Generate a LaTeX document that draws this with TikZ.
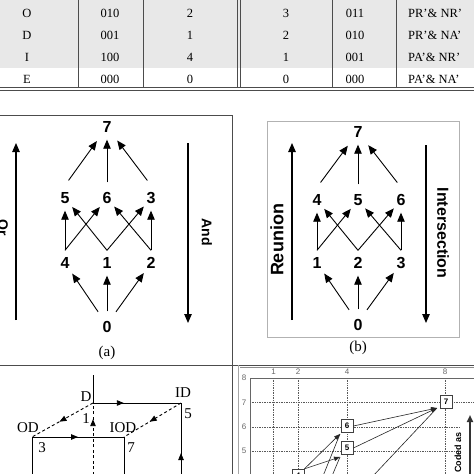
\documentclass[tikz,border=0pt]{standalone}
\usepackage{fontspec}
\setmainfont{Liberation Serif}
\newfontfamily\arialf{Liberation Sans}
\usetikzlibrary{arrows.meta,decorations.markings}
\begin{document}
\begin{tikzpicture}[x=1pt,y=-1pt,
  tcell/.style={font=\fontsize{12.5}{12.5}\selectfont, inner sep=0},
  lat/.style={font=\arialf\bfseries\fontsize{16}{16}\selectfont, inner sep=0, minimum height=25, minimum width=14},
  larr/.style={line width=0.9pt, -{Triangle[length=9pt,width=7.5pt]}},
  bigarr/.style={line width=1.1pt, -{Triangle[length=9pt,width=7.5pt]}},
  sidetxt/.style={font=\arialf\bfseries\fontsize{14}{14}\selectfont, inner sep=0},
  cubetxt/.style={font=\fontsize{15}{15}\selectfont, inner sep=0},
  cubeline/.style={line width=0.9pt},
  cubedash/.style={line width=0.9pt, dash pattern=on 3pt off 2.5pt},
  midarr/.style={postaction={decorate}, decoration={markings, mark=at position #1 with {\arrow{Triangle[length=7pt,width=5.5pt]}}}},
  frameline/.style={line width=1pt, black!70},
  grid/.style={densely dotted, line width=0.7pt, black!65},
  axlab/.style={font=\arialf\fontsize{8}{8}\selectfont, text=black!60, inner sep=0},
  cbox/.style={draw=black!75, fill=white, line width=0.8pt, minimum width=12, minimum height=12.5, inner sep=0, font=\arialf\bfseries\fontsize{8}{8}\selectfont},
  charr/.style={line width=0.6pt, black!85, -{Triangle[length=6pt,width=4.5pt]}},
  chline/.style={line width=0.6pt, black!85}
]
\useasboundingbox (0,0) rectangle (474,474);
\clip (0,0) rectangle (474,474);
\fill[white] (0,0) rectangle (474,474);

% ---------------- table ----------------
\fill[black!9] (0,0) rectangle (474,68);
\foreach \xx in {78,143,237.5,240.5,332,396} \draw[frameline] (\xx,0) -- (\xx,88);
\draw[frameline] (0,87.5) -- (474,87.5);
\draw[frameline] (0,90.5) -- (474,90.5);
\foreach \r/\yy/\a/\b/\c/\d/\e/\f in {1/13/O/010/2/3/011/PR’\& NR’, 2/35/D/001/1/2/010/PR’\& NA’, 3/57/I/100/4/1/001/PA’\& NR’, 4/79/E/000/0/0/000/PA’\& NA’}{
  \node[tcell] (ta\r) at (27,\yy) {\a};
  \node[tcell] (tb\r) at (110,\yy) {\b};
  \node[tcell] (tc\r) at (190,\yy) {\c};
  \node[tcell] (td\r) at (286,\yy) {\d};
  \node[tcell] (te\r) at (355,\yy) {\e};
  \node[tcell, anchor=west] (tf\r) at (408,\yy) {\f};
}

% ---------------- frames ----------------
\draw[frameline] (0,115) -- (232,115);
\draw[frameline] (232,115) -- (232,474);
\draw[frameline] (0,365) -- (474,365);
\draw[line width=0.8pt, black!45] (240,367.5) -- (474,367.5);
\draw[line width=0.8pt, black!35] (238,365) -- (238,474);
\draw[line width=0.8pt, black!30] (267,121) rectangle (459,337);

% ---------------- lattice (a) ----------------
\node[lat] (a7) at (107,127) {7};
\node[lat] (a5) at (65,198) {5};
\node[lat] (a6) at (107,198) {6};
\node[lat] (a3) at (151,198) {3};
\node[lat] (a4) at (65,263) {4};
\node[lat] (a1) at (107,263) {1};
\node[lat] (a2) at (151,263) {2};
\node[lat] (a0) at (107,327) {0};
\draw[larr, shorten <=3pt] (a0.north west) -- (a4);
\draw[larr, shorten <=3pt] (a0.north) -- (a1);
\draw[larr, shorten <=3pt] (a0.north east) -- (a2);
\draw[larr] (a4.north) -- (a5);
\draw[larr] (a4.north) -- (a6);
\draw[larr] (a1.north) -- (a5);
\draw[larr] (a1.north) -- (a3);
\draw[larr] (a2.north) -- (a6);
\draw[larr] (a2.north) -- (a3);
\draw[larr, shorten <=6pt, shorten >=5pt] (a5.north) -- (a7);
\draw[larr, shorten <=3pt] (a6.north) -- (a7);
\draw[larr, shorten <=6pt, shorten >=5pt] (a3.north) -- (a7);
\coordinate (al1) at (16,320); \coordinate (al2) at (16,143);
\draw[bigarr] (al1) -- (al2);
\coordinate (ar1) at (188,143); \coordinate (ar2) at (188,323);
\draw[bigarr] (ar1) -- (ar2);
\node[sidetxt, rotate=-90, anchor=north] (aor) at (8,228) {Or};
\node[sidetxt, rotate=-90] (aand) at (207,232) {And};
\node[font=\fontsize{15}{15}\selectfont, inner sep=0] (acap) at (107,353) {(a)};

% ---------------- lattice (b) ----------------
\node[lat] (b7) at (358,132) {7};
\node[lat] (b4) at (317,200) {4};
\node[lat] (b5) at (358,200) {5};
\node[lat] (b6) at (401,200) {6};
\node[lat] (b1) at (317,263) {1};
\node[lat] (b2) at (358,263) {2};
\node[lat] (b3) at (401,263) {3};
\node[lat] (b0) at (358,325) {0};
\draw[larr, shorten <=3pt] (b0.north west) -- (b1);
\draw[larr, shorten <=3pt] (b0.north) -- (b2);
\draw[larr, shorten <=3pt] (b0.north east) -- (b3);
\draw[larr] (b1.north) -- (b4);
\draw[larr] (b1.north) -- (b5);
\draw[larr] (b2.north) -- (b4);
\draw[larr] (b2.north) -- (b6);
\draw[larr] (b3.north) -- (b5);
\draw[larr] (b3.north) -- (b6);
\draw[larr, shorten <=6pt, shorten >=5pt] (b4.north) -- (b7);
\draw[larr, shorten <=3pt] (b5.north) -- (b7);
\draw[larr, shorten <=6pt, shorten >=5pt] (b6.north) -- (b7);
\coordinate (bl1) at (292,320); \coordinate (bl2) at (292,143);
\draw[bigarr] (bl1) -- (bl2);
\coordinate (br1) at (426,145); \coordinate (br2) at (426,323);
\draw[bigarr] (br1) -- (br2);
\node[sidetxt, font=\arialf\bfseries\fontsize{18}{18}\selectfont, rotate=90] (breu) at (277,240) {Reunion};
\node[sidetxt, font=\arialf\bfseries\fontsize{16}{16}\selectfont, rotate=-90] (bint) at (443,233) {Intersection};
\node[font=\fontsize{15}{15}\selectfont, inner sep=0] (bcap) at (358,348) {(b)};

% ---------------- cube ----------------
\coordinate (cD) at (93,403);
\coordinate (cID) at (181,403);
\coordinate (cOD) at (32,437);
\coordinate (cIOD) at (124,437);
\coordinate (cDtop) at (93,375);
\coordinate (cDbot) at (93,480);
\coordinate (cIDbot) at (181,480);
\coordinate (cODbot) at (32,480);
\coordinate (cIODbot) at (124,480);
\draw[cubeline] (cDtop) -- (cD);
\draw[cubedash, midarr=0.79] (cDbot) -- (cD);
\draw[cubeline, midarr=0.35] (cD) -- (cID);
\draw[cubedash, midarr=0.55] (cD) -- (cOD);
\draw[cubedash, midarr=0.55] (cID) -- (cIOD);
\draw[cubeline, midarr=0.5] (cOD) -- (cIOD);
\draw[cubeline] (cOD) -- (cODbot);
\draw[cubeline] (cIOD) -- (cIODbot);
\draw[cubeline, midarr=0.35] (cIDbot) -- (cID);
\node[cubetxt] (lD) at (86,397) {D};
\node[cubetxt] (l1) at (86,419) {1};
\node[cubetxt] (lID) at (183,393) {ID};
\node[cubetxt] (l5) at (188,414) {5};
\node[cubetxt] (lOD) at (28,428) {OD};
\node[cubetxt] (l3) at (42,448) {3};
\node[cubetxt] (lIOD) at (123,428) {IOD};
\node[cubetxt] (l7) at (131,448) {7};

% ---------------- chart ----------------
\foreach \xx in {273.5,298,347,445} \draw[grid] (\xx,378) -- (\xx,474);
\draw[grid] (250,402.5) -- (474,402.5);
\draw[grid] (250,427) -- (460,427);
\draw[grid] (250,451) -- (460,451);
\draw[line width=1pt, black!60] (250,474) -- (250,378) -- (474,378);
\node[axlab] (y8) at (244,378) {8};
\node[axlab] (y7) at (244,402.5) {7};
\node[axlab] (y6) at (244,427) {6};
\node[axlab] (y5) at (244,451) {5};
\node[axlab] (x1) at (273.5,372) {1};
\node[axlab] (x2) at (298,372) {2};
\node[axlab] (x4) at (347,372) {4};
\node[axlab] (x8) at (445,372) {8};
\node[cbox] (k7) at (446,402) {7};
\node[cbox] (k6) at (347,426) {6};
\node[cbox] (k5) at (347,448) {5};
\node[cbox] (k4) at (298,475.5) {4};
\coordinate (t6) at (340,434);
\coordinate (t5) at (340,457);
\coordinate (t7) at (437,408);
\coordinate (f1) at (323,476);
\coordinate (f2) at (332,476);
\coordinate (f3) at (373,476);
\draw[charr] (k4.north east) -- (t6);
\draw[charr] (k4.north east) -- (t5);
\draw[chline] (f1) -- (t6);
\draw[chline] (f2) -- (t5);
\draw[charr] (k6.east) -- (t7);
\draw[charr] (k5.east) -- (t7);
\draw[chline] (f3) -- (t7);
\coordinate (ca1) at (470,480); \coordinate (ca2) at (470,415);
\draw[line width=2pt, black!80, -{Triangle[length=7pt,width=6pt]}] (ca1) -- (ca2);
\node[font=\arialf\bfseries\fontsize{9}{9}\selectfont, inner sep=0, rotate=90, anchor=east] (coded) at (458,432) {Coded as};
\end{tikzpicture}
\end{document}
